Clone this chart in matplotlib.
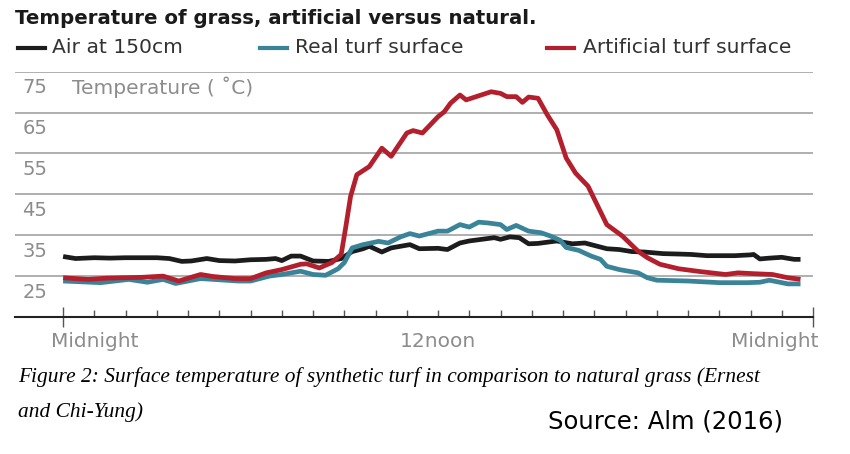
import matplotlib
matplotlib.use("Agg")
import matplotlib.pyplot as plt
from matplotlib.lines import Line2D
from matplotlib.transforms import ScaledTranslation, blended_transform_factory

# air at 150cm (hour of day, deg C)
air_h = [0, 0.4, 1.0, 1.5, 2.0, 2.5, 3.0, 3.4, 3.8, 4.1, 4.6, 5.0, 5.5, 6.0, 6.5, 6.8,
         7.0, 7.3, 7.6, 8.0, 8.5, 8.9, 9.25, 9.6, 9.8, 10.2, 10.5, 11.1, 11.4, 12.0,
         12.3, 12.7, 13.0, 13.4, 13.8, 14.0, 14.3, 14.6, 14.9, 15.2, 15.5, 15.8, 16.0,
         16.3, 16.7, 17.0, 17.4, 17.8, 18.2, 18.6, 19.2, 19.7, 20.1, 20.6, 21.0, 21.5,
         22.0, 22.1, 22.3, 22.6, 23.0, 23.4, 23.6]
air_t = [29.8, 29.3, 29.5, 29.4, 29.5, 29.5, 29.5, 29.3, 28.6, 28.7, 29.3, 28.8, 28.7,
         29.0, 29.1, 29.3, 28.8, 29.9, 29.9, 28.7, 28.6, 29.3, 31.0, 31.7, 32.3, 30.9,
         31.9, 32.7, 31.7, 31.8, 31.5, 33.1, 33.6, 34.0, 34.4, 34.0, 34.6, 34.4, 32.9,
         33.0, 33.3, 33.6, 33.3, 32.9, 33.1, 32.5, 31.7, 31.5, 31.0, 30.9, 30.5, 30.4,
         30.3, 30.0, 30.0, 30.0, 30.2, 30.3, 29.2, 29.4, 29.6, 29.1, 29.1]

# real turf surface
real_h = [0, 1.2, 2.1, 2.7, 3.2, 3.6, 4.4, 4.8, 5.6, 6.0, 6.6, 7.0, 7.6, 8.0, 8.4, 8.8,
          9.0, 9.25, 9.6, 10.1, 10.4, 10.8, 11.1, 11.4, 12.0, 12.3, 12.7, 13.0, 13.3,
          13.6, 14.0, 14.2, 14.5, 14.9, 15.3, 15.6, 15.9, 16.1, 16.5, 16.9, 17.2, 17.4,
          17.8, 18.4, 18.7, 19.0, 20.0, 21.0, 21.9, 22.3, 22.6, 23.2, 23.6]
real_t = [23.8, 23.4, 24.2, 23.5, 24.2, 23.2, 24.4, 24.2, 23.8, 23.8, 25.0, 25.4, 26.2,
          25.4, 25.2, 26.8, 28.3, 31.9, 32.7, 33.5, 33.1, 34.6, 35.4, 34.8, 36.0, 36.0,
          37.6, 37.0, 38.2, 38.0, 37.6, 36.4, 37.4, 36.0, 35.6, 34.8, 33.8, 32.0, 31.3,
          29.9, 29.1, 27.4, 26.6, 25.8, 24.6, 24.0, 23.8, 23.4, 23.4, 23.5, 24.0, 23.1,
          23.1]

# artificial turf surface
art_h = [0, 0.8, 1.4, 1.9, 2.5, 3.2, 3.7, 4.4, 4.8, 5.5, 6.0, 6.5, 7.0, 7.6, 7.8, 8.2,
         8.6, 8.9, 9.05, 9.2, 9.4, 9.8, 10.2, 10.5, 11.0, 11.2, 11.5, 12.0, 12.2, 12.4,
         12.7, 12.9, 13.3, 13.7, 14.0, 14.2, 14.5, 14.7, 14.9, 15.2, 15.5, 15.8, 16.1,
         16.4, 16.8, 17.4, 17.9, 18.4, 18.7, 19.1, 19.7, 20.4, 21.2, 21.6, 22.1, 22.7,
         23.2, 23.6]
art_t = [24.6, 24.2, 24.5, 24.6, 24.7, 25.0, 23.8, 25.4, 24.9, 24.4, 24.4, 25.8, 26.6,
         27.9, 28.0, 27.0, 28.3, 30.3, 37.2, 44.5, 49.8, 51.8, 56.3, 54.3, 60.0, 60.6,
         60.0, 64.0, 65.2, 67.3, 69.3, 68.1, 69.1, 70.1, 69.7, 68.9, 68.9, 67.5, 68.8,
         68.5, 64.4, 60.8, 53.9, 50.2, 47.0, 37.6, 34.8, 31.1, 29.5, 27.9, 26.8, 26.1,
         25.4, 25.8, 25.6, 25.4, 24.6, 24.2]

grid_vals = [25, 35, 45, 55, 65, 75]
series = [("Air at 150cm", air_h, air_t, "#1c1c1c"),
          ("Real turf surface", real_h, real_t, "#3a8499"),
          ("Artificial turf surface", art_h, art_t, "#b31f2c")]

W, H = 850, 454
def fx(x):
    return x / W
def fy(y):
    return 1 - y / H

fig = plt.figure(figsize=(W / 100, H / 100), dpi=100)
ax = fig.add_axes([fx(15), fy(317), fx(813) - fx(15), fy(71.7) - fy(317)])

for name, h, t, c in series:
    ax.plot(h, t, color=c, lw=3.4, solid_capstyle="butt", zorder=3)

ax.set_xlim(-1.54, 24)
ax.set_ylim(15, 75)
for v in grid_vals:
    ax.axhline(v, color="#9a9a9a", lw=1.1, zorder=1)

ax.set_yticks([])
for s in ["left", "right", "top"]:
    ax.spines[s].set_visible(False)
ax.spines["bottom"].set_color("#222222")
ax.spines["bottom"].set_linewidth(1.5)

gray = "#8c8c8c"
tr = blended_transform_factory(ax.transAxes, ax.transData)
for v in grid_vals:
    ax.text(0.009, v - 3.9, str(v), transform=tr, va="center", ha="left",
            fontsize=14, color=gray)
ax.text(0.29, 75 - 3.9, "Temperature ( ˚C)", va="center", ha="left",
        fontsize=14.5, color=gray)

ax.set_xticks([0, 24])
ax.set_xticklabels(["Midnight", "Midnight"], fontsize=14.5, color=gray)
ax.tick_params(axis="x", which="major", direction="inout", length=14, width=1,
               color="#555555", pad=4)
ax.set_xticks(range(1, 24), minor=True)
ax.set_xticklabels(["12noon" if i == 12 else "" for i in range(1, 24)], minor=True,
                   fontsize=14.5, color=gray)
ax.tick_params(axis="x", which="minor", direction="in", length=5, width=1,
               color="#555555", pad=11)
labs = ax.get_xticklabels()
labs[0].set_ha("left")
labs[0].set_transform(labs[0].get_transform() + ScaledTranslation(-9 / 72, 0, fig.dpi_scale_trans))
labs[1].set_ha("right")
labs[1].set_transform(labs[1].get_transform() + ScaledTranslation(4 / 72, 0, fig.dpi_scale_trans))

# title and legend
fig.text(fx(15), fy(18), "Temperature of grass, artificial versus natural.",
         fontsize=14.2, fontweight="bold", color="#1a1a1a", va="center", ha="left")
leg_x = [(18, 52), (260, 295), (547, 583)]
for (lx, tx), (name, h, t, c) in zip(leg_x, series):
    fig.add_artist(Line2D([fx(lx), fx(lx + 27)], [fy(47.5), fy(47.5)], color=c, lw=3,
                          transform=fig.transFigure))
    fig.text(fx(tx), fy(47.5), name, fontsize=14.6, color="#333333", va="center", ha="left")

# caption and source
cap_font = dict(family="Liberation Serif", style="italic", fontsize=15.4, color="black")
fig.text(fx(18), fy(377), "Figure 2: Surface temperature of synthetic turf in comparison "
         "to natural grass (Ernest", va="center", ha="left", **cap_font)
fig.text(fx(18), fy(412), "and Chi-Yung)", va="center", ha="left", **cap_font)
fig.text(fx(548), fy(422), "Source: Alm (2016)", fontsize=17.5, color="black",
         va="center", ha="left")

fig.savefig("out.png", dpi=100)
